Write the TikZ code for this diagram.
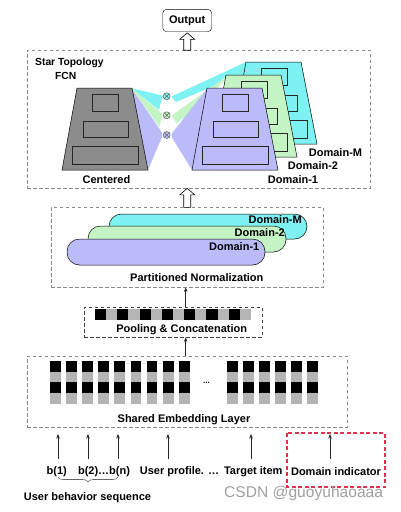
\documentclass[tikz,border=0pt]{standalone}
\usepackage{fontspec}
\setmainfont{Liberation Sans}
\usetikzlibrary{decorations.pathreplacing,arrows.meta}
\definecolor{cy}{HTML}{7EF2F2}
\definecolor{gr}{HTML}{C4F4C4}
\definecolor{lv}{HTML}{BBBBFA}
\definecolor{gy}{HTML}{8C8C8C}
\definecolor{lg}{HTML}{B4B4B4}
\definecolor{dashc}{HTML}{8A8A8A}
\definecolor{redbox}{RGB}{220,50,75}
\definecolor{wm}{HTML}{A0A0A0}
\tikzset{
 lbl/.style={font=\fontsize{11}{12}\selectfont\bfseries, inner sep=0},
 slbl/.style={font=\fontsize{10.3}{12}\selectfont\bfseries, inner sep=0},
 dbox/.style={draw=dashc, dash pattern=on 3.5pt off 2.5pt, line width=0.7pt, inner sep=0},
 rbox/.style={draw=redbox, dash pattern=on 4pt off 2.5pt, line width=1.1pt, inner sep=0},
 arr/.style={-{Stealth[length=4.5pt,width=3.5pt]}, line width=0.6pt, draw=black!85},
 hollow/.style={draw=black, fill=white, line width=0.6pt},
 trap/.style={draw=black, line width=0.5pt},
 irect/.style={draw=black!85, line width=0.7pt},
 pill/.style={draw=black, line width=0.5pt, rounded corners=12.5pt},
 mult/.style={circle, draw=black!60, line width=0.5pt, minimum size=7pt, inner sep=0},
 pics/hollowup/.style={code={\draw[hollow] (0,0) -- (7.5,6.5) -- (3.5,6.5) -- (3.5,#1) -- (-3.5,#1) -- (-3.5,6.5) -- (-7.5,6.5) -- cycle;}},
 pics/fcn/.style={code={
  \draw[trap, fill=#1] (15,0) -- (70,0) -- (86,82) -- (0,82) -- cycle;
  \draw[irect] (30,6) rectangle (56,23);
  \draw[irect] (21,33) rectangle (66,49);
  \draw[irect] (10,58) rectangle (76,76);
 }},
}
\begin{document}
\begin{tikzpicture}[x=1pt,y=-1pt]
\useasboundingbox (0,0) rectangle (400,512);

% ---------- Output ----------
\node[draw, rounded corners=4pt, minimum width=49pt, minimum height=22.4pt, lbl] (out) at (187.2,20.5) {Output};

% ---------- Star topology box ----------
\node[dbox, minimum width=343pt, minimum height=138pt] (star) at (198.5,119) {};
\pic at ([yshift=-1pt]out.south) {hollowup=17.3};
\node[slbl, anchor=west] (st) at (35,62.7) {Star Topology};
\node[slbl, anchor=west] (fcn) at (55,76) {FCN};

% left wedges
\fill[lv] (131.7,88.3) -- (162,132.5) -- (162,137) -- (148,170) -- cycle;
\fill[gr] (131.7,88.3) -- (162.5,114) -- (159.5,127) -- cycle;
\fill[cy] (131.7,88.3) -- (162.5,95.5) -- (159,110) -- cycle;
% right wedges
\fill[cy] (171.5,96.5) -- (246.7,61.7) -- (244.5,76.5) -- (226,76.5) -- (213.5,86) -- (176,102) -- cycle;
\fill[gr] (171.5,115.5) -- (228,76) -- (212,94) -- (176.7,123.3) -- cycle;
\fill[lv] (171.5,134) -- (207.5,88) -- (192,170) -- (172,137.5) -- cycle;

% multiplication nodes
\node[mult, fill=cy] (m1) at (166.7,96.3) {};
\node[mult, fill=gr] (m2) at (166.7,115.3) {};
\node[mult, fill=lv] (m3) at (166.7,135) {};
\foreach \m in {m1,m2,m3}{
 \draw[black!60, line width=0.5pt] (\m.north west) -- (\m.south east) (\m.north east) -- (\m.south west);
}

% FCN towers
\pic at (62,88) {fcn=gy};
\pic at (231,62) {fcn=cy};
\pic at (211,75) {fcn=gr};
\pic at (192,88) {fcn=lv};

\node[lbl] (cen) at (106.5,180) {Centered};
\node[lbl] (dm) at (335.5,152.7) {Domain-M};
\node[lbl] (d2) at (313,166) {Domain-2};
\node[lbl] (d1) at (293,180) {Domain-1};

% ---------- Partitioned normalization ----------
\node[dbox, minimum width=272pt, minimum height=80pt] (pn) at (187,247) {};
\pic at (star.south -| out.south) {hollowup=19};
\draw[pill, fill=cy] (109,214) rectangle (307,239);
\draw[pill, fill=gr] (88,226) rectangle (286,252);
\draw[pill, fill=lv] (67,239) rectangle (265,265);
\node[lbl, anchor=east] (pm) at (302,220) {Domain-M};
\node[lbl, anchor=east] (p2) at (285,232.7) {Domain-2};
\node[lbl, anchor=east] (p1) at (259.5,246.7) {Domain-1};
\node[lbl] (pnl) at (196.8,278) {Partitioned Normalization};

% ---------- Pooling ----------
\node[dbox, draw=black!75, minimum width=178pt, minimum height=30pt] (pool) at (173,322) {};
\foreach \i in {0,...,13}{
 \pgfmathsetmacro{\xx}{95+11.14*\i}
 \ifodd\i \fill[lg] (\xx,309) rectangle ++(11.14,11); \else \fill[black] (\xx,309) rectangle ++(11.14,11); \fi
}
\node[lbl] (pooll) at (181.7,330) {Pooling \& Concatenation};
\coordinate (ax) at (185.7,0);
\draw[arr] (pool.north -| ax) -- (pn.south -| ax);

% ---------- Shared embedding ----------
\node[dbox, minimum width=320pt, minimum height=71pt] (emb) at (187,391.5) {};
\draw[arr] (emb.north -| ax) -- (pool.south -| ax);
\foreach \xx in {50,66.1,82.2,98.3,114.4,130.5,146.6,162.7,178.8,227.3,243.3,259.3,275.3,291.3,307.3}{
 \fill[black] (\xx,360.7) rectangle ++(10.8,10.8);
 \fill[lg] (\xx,371.5) rectangle ++(10.8,10.8);
 \fill[black] (\xx,382.3) rectangle ++(10.8,10.8);
 \fill[lg] (\xx,393.1) rectangle ++(10.8,10.8);
}
\node[font=\fontsize{8}{9}\selectfont\bfseries, inner sep=0] (dots) at (206.5,383) {...};
\node[lbl] (embl) at (184,420) {Shared Embedding Layer};

% ---------- Inputs ----------
\draw[rbox] (287,433) rectangle (385,487);
\node[lbl] (b1) at (56.7,472) {b(1)};
\node[lbl] (b2) at (104,472) {b(2)…b(n)};
\node[lbl] (up) at (179.5,472) {User profile. …};
\node[lbl] (ti) at (253.3,472) {Target item};
\node[lbl] (di) at (336,472) {Domain indicator};
\foreach \n/\xx in {1/58,2/88,3/118,4/168,5/251,6/330}{
 \coordinate (s\n) at (\xx,459);
 \coordinate (e\n) at (\xx,434);
 \draw[arr] (s\n) -- (e\n);
}
\coordinate (br1) at (58,477);
\coordinate (br2) at (118,477);
\draw[black!60, line width=0.6pt, decorate, decoration={brace, mirror, amplitude=5pt}] (br1) -- (br2);
\node[lbl] (ubs) at (87.5,498) {User behavior sequence};

% watermark
\node[font=\fontsize{15.6}{17}\selectfont, text=wm, inner sep=0, anchor=west] (wmk) at (224,493) {CSDN @guoyuhaoaaa};
\end{tikzpicture}
\end{document}
